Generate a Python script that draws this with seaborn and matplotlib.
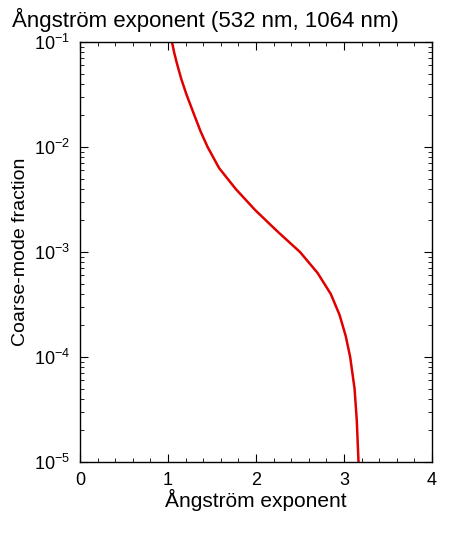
import matplotlib
matplotlib.use("Agg")
import matplotlib.pyplot as plt
import seaborn as sns
import numpy as np
import pandas as pd

angstrom = [1.045, 1.07, 1.10, 1.15, 1.21, 1.30, 1.37, 1.45, 1.58, 1.77, 1.99, 2.24,
            2.50, 2.70, 2.85, 2.95, 3.02, 3.07, 3.12, 3.145, 3.165]
fraction = [1e-1, 7.94e-2, 6.31e-2, 4.47e-2, 3.16e-2, 2.0e-2, 1.41e-2, 1e-2, 6.31e-3,
            3.98e-3, 2.51e-3, 1.58e-3, 1e-3, 6.31e-4, 3.98e-4, 2.51e-4, 1.58e-4, 1e-4,
            5.0e-5, 2.51e-5, 1e-5]

sns.set_style("ticks")
plt.rcParams['font.family'] = ['Liberation Sans', 'DejaVu Sans']
plt.rcParams['text.color'] = 'black'
plt.rcParams['axes.labelcolor'] = 'black'
plt.rcParams['xtick.color'] = 'black'
plt.rcParams['ytick.color'] = 'black'

fig = plt.figure(figsize=(4.74, 5.35), dpi=100)
ax = fig.add_axes([80/474, 73/535, 352/474, 420/535])
df = pd.DataFrame({"x": angstrom, "y": fraction})
sns.lineplot(data=df, x="x", y="y", ax=ax, color="#e00000", lw=1.8, sort=False)
ax.set_yscale("log")
ax.set_xlim(0, 4)
ax.set_ylim(1e-5, 1e-1)
ax.set_xticks([0, 1, 2, 3, 4])
ax.set_xticklabels(["0", "1", "2", "3", "4"])
ax.tick_params(direction="in", top=True, right=True, labelsize=13, length=6, pad=7)
ax.tick_params(which="minor", direction="in", top=True, right=True, length=3)
ax.xaxis.set_minor_locator(matplotlib.ticker.MultipleLocator(0.2))
for s in ax.spines.values():
    s.set_linewidth(1)
    s.set_color("black")
ax.set_xlabel("Ångström exponent", fontsize=15, labelpad=0)
ax.set_ylabel("Coarse-mode fraction", fontsize=14)
fig.text(12/474, 1 - 20/535, "Ångström exponent (532 nm, 1064 nm)", fontsize=16, va="center", ha="left")
fig.savefig("out.png", dpi=100)
